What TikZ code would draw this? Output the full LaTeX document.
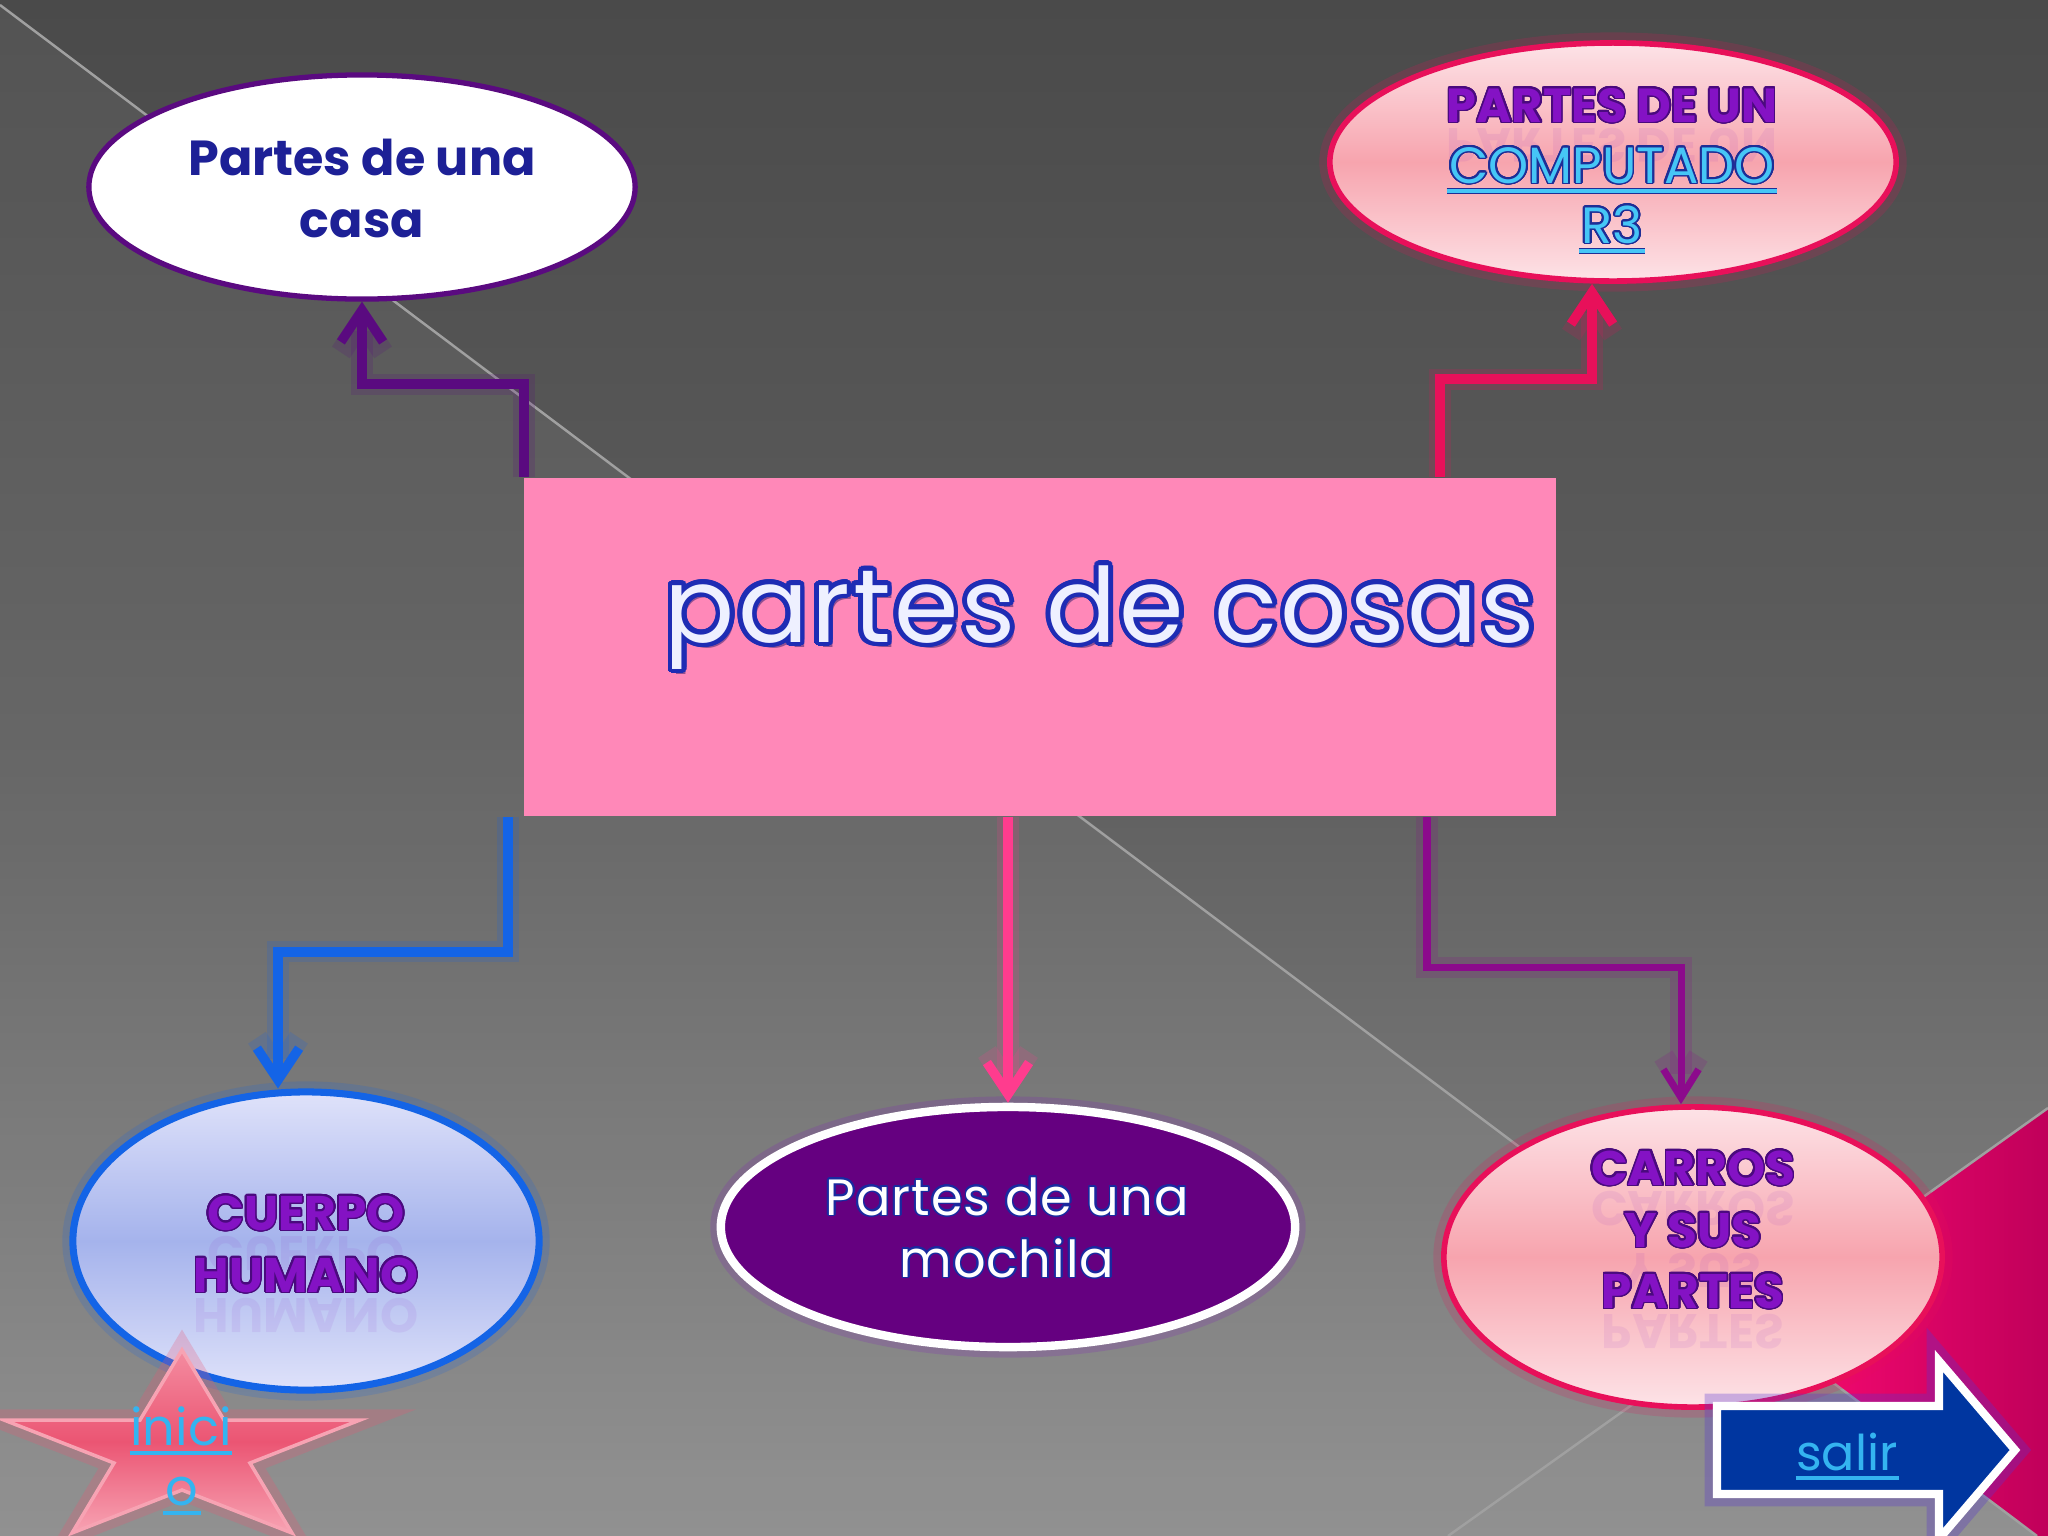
\documentclass[tikz,border=0pt]{standalone}
\usepackage{graphicx}
\usepackage{fontspec}
\setmainfont{Poppins}
\newfontfamily\popLS[LetterSpace=3]{Poppins}
\newfontfamily\popMS[LetterSpace=2]{Poppins}
\usepackage[copies]{contour}
\contournumber{24}
\usetikzlibrary{shapes.geometric,arrows.meta,calc}

\definecolor{bgtop}{HTML}{4A4A4A}
\definecolor{bgmid}{HTML}{5F5F5F}
\definecolor{bgbot}{HTML}{8C8C8C}
\definecolor{lineg}{HTML}{A0A0A0}
\definecolor{magA}{HTML}{FF0A74}
\definecolor{magB}{HTML}{C0005A}
\definecolor{boxpink}{HTML}{FF88B8}
\definecolor{casaC}{HTML}{5A0A80}
\definecolor{compC}{HTML}{E8105A}
\definecolor{cuerpoC}{HTML}{1464E6}
\definecolor{mochC}{HTML}{FF3C8E}
\definecolor{carrosC}{HTML}{8C0A8C}
\definecolor{casaText}{HTML}{1D2096}
\definecolor{purT}{HTML}{8412C4}
\definecolor{purO}{HTML}{4A0A7E}
\definecolor{cBlue}{HTML}{46C6F6}
\definecolor{cBlueO}{HTML}{1E2E96}
\definecolor{mochO}{HTML}{1A2AA0}
\definecolor{mochFill}{HTML}{650080}
\definecolor{cosasFill}{HTML}{EEF0FF}
\definecolor{cosasO}{HTML}{1E2CB4}
\definecolor{cosasS}{HTML}{0A0A60}
\definecolor{linkBlue}{HTML}{34B4F0}
\definecolor{pinkTop}{HTML}{FDE3E7}
\definecolor{pinkMid}{HTML}{F7A4AE}
\definecolor{lavTop}{HTML}{DFE2FA}
\definecolor{lavMid}{HTML}{A5B3EC}
\definecolor{starMid}{HTML}{EB5573}
\definecolor{starTop}{HTML}{F48CA0}
\definecolor{starBot}{HTML}{F7A3B3}
\definecolor{arrowBlue}{HTML}{0036A0}

\newcommand\mirrortext[1]{\scalebox{1}[-1]{#1}}

\tikzset{
  t/.style={anchor=base, inner sep=0pt},
  glow/.style={preaction={draw=#1, line width=6pt, draw opacity=0.18}},
  conn/.style={draw=#1, line width=2.7pt, glow=#1,
    -{Straight Barb[length=9pt,width=12pt]}},
  thinconn/.style={draw=#1, line width=2pt, glow=#1,
    -{Straight Barb[length=8pt,width=10pt]}},
  oval/.style={ellipse, inner sep=0pt},
  pinkoval/.style={oval, top color=pinkTop, bottom color=pinkTop, middle color=pinkMid,
    draw=compC, line width=1.6pt, glow=compC},
  bigtxt/.style={font=\fontsize{13.8}{17}\selectfont\bfseries},
  refl/.style={t, text=purT, text opacity=0.08, bigtxt},
}

\begin{document}
\begin{tikzpicture}[x=0.01cm,y=-0.01cm]
\useasboundingbox (0,0) rectangle (2048,1536);
% background
\shade[top color=bgtop, bottom color=bgbot, middle color=bgmid] (0,0) rectangle (2048,1536);
\fill[white, opacity=0.05] (0,5) -- (2037,1536) -- (0,1536) -- cycle;
\shade[left color=magA, right color=magB] (1750,1321) -- (2048,1108) -- (2048,1536) -- (2037,1536) -- cycle;
\draw[lineg, line width=0.7pt] (0,5) -- (2037,1536);
\draw[lineg, line width=0.7pt] (1448,1536) -- (2048,1108);

% central box
\node[fill=boxpink, minimum width=10.32cm, minimum height=3.38cm, inner sep=0pt] (box) at (1040,647) {};

% ellipses
\node[oval, fill=white, draw=casaC, line width=1.5pt, minimum width=5.46cm, minimum height=2.24cm] (casa) at (362,187) {};
\node[pinkoval, minimum width=5.66cm, minimum height=2.38cm] (comp) at (1613,162) {};
\node[oval, top color=lavTop, bottom color=lavTop, middle color=lavMid, draw=cuerpoC, line width=2pt, glow=cuerpoC,
      minimum width=4.66cm, minimum height=2.98cm] (cuerpo) at (306,1241) {};
\node[oval, fill=mochFill, draw=white, line width=2.4pt, glow=purT,
      minimum width=5.74cm, minimum height=2.40cm] (moch) at (1008,1227) {};
\node[pinkoval, minimum width=4.98cm, minimum height=3.00cm] (carros) at (1693,1257) {};

% connectors
\draw[conn=casaC] ($(box.north west)+(1,0)$) -- ++(0,-93) -| (casa.south);
\draw[conn=compC] ($(box.north west)+(917,0)$) -- ++(0,-98) -| ($(comp.south)+(-21,0)$);
\draw[conn=cuerpoC] ($(box.south west)+(-15,0)$) -- ++(0,135) -| ($(cuerpo.north)+(-28,0)$);
\draw[conn=mochC] (moch.north |- box.south) -- (moch.north);
\draw[thinconn=carrosC] ($(box.south west)+(904,0)$) -- ++(0,151) -| ($(carros.north)+(-12,0)$);

% central text
\node[t, text=cosasS, text opacity=0.45] (cosasShadow) at (1104,647)
  {\fontsize{29.5}{36}\selectfont\popLS partes de cosas};
\node[t] (cosas) at (1100,642)
  {\fontsize{29.5}{36}\selectfont\popLS\contourlength{1.3pt}\color{cosasFill}\contour{cosasO}{partes de cosas}};

% casa text
\node[t, text=casaText, font=\fontsize{14}{17}\selectfont\bfseries] (casa1) at (362,175) {Partes de una};
\node[t, text=casaText, font=\fontsize{14}{17}\selectfont\bfseries] (casa2) at (362,237) {casa};

% computador text
\node[refl, font=\fontsize{13.6}{17}\selectfont\bfseries] (comp1r) at (1612,128) {\mirrortext{PARTES DE UN}};
\node[t, font=\fontsize{13.6}{17}\selectfont\bfseries] (comp1) at (1612,122)
  {\contourlength{0.45pt}\color{purT}\contour{purO}{PARTES DE UN}};
\node[t, font=\fontsize{14.5}{17}\selectfont] (comp2) at (1612,183)
  {\contourlength{0.5pt}\color{cBlue}\contour{cBlueO}{COMPUTADO}};
\node[t, font=\fontsize{14.5}{17}\selectfont] (comp3) at (1612,243)
  {\contourlength{0.5pt}\color{cBlue}\contour{cBlueO}{R3}};
\draw[cBlueO, line width=1.9pt] ($(comp2.base west)+(-2,8)$) -- ($(comp2.base east)+(2,8)$);
\draw[cBlue, line width=0.9pt] ($(comp2.base west)+(-2,8)$) -- ($(comp2.base east)+(2,8)$);
\draw[cBlueO, line width=1.9pt] ($(comp3.base west)+(-2,8)$) -- ($(comp3.base east)+(2,8)$);
\draw[cBlue, line width=0.9pt] ($(comp3.base west)+(-2,8)$) -- ($(comp3.base east)+(2,8)$);

% cuerpo text
\node[refl] (cuerpo1r) at (306,1236) {\mirrortext{CUERPO}};
\node[refl] (cuerpo2r) at (306,1298) {\mirrortext{HUMANO}};
\node[t, bigtxt] (cuerpo1) at (306,1230) {\contourlength{0.45pt}\color{purT}\contour{purO}{CUERPO}};
\node[t, bigtxt] (cuerpo2) at (306,1292) {\contourlength{0.45pt}\color{purT}\contour{purO}{HUMANO}};

% mochila text
\node[t, font=\fontsize{14.5}{17}\selectfont\popMS] (moch1) at (1007,1215)
  {\contourlength{0.45pt}\color{white}\contour{mochO}{Partes de una}};
\node[t, font=\fontsize{14.5}{17}\selectfont\popMS] (moch2) at (1007,1277)
  {\contourlength{0.45pt}\color{white}\contour{mochO}{mochila}};

% carros text
\node[refl] (carros1r) at (1693,1191) {\mirrortext{CARROS}};
\node[refl] (carros2r) at (1693,1253) {\mirrortext{Y SUS}};
\node[refl] (carros3r) at (1693,1314) {\mirrortext{PARTES}};
\node[t, bigtxt] (carros1) at (1693,1185) {\contourlength{0.45pt}\color{purT}\contour{purO}{CARROS}};
\node[t, bigtxt] (carros2) at (1693,1247) {\contourlength{0.45pt}\color{purT}\contour{purO}{Y SUS}};
\node[t, bigtxt] (carros3) at (1693,1308) {\contourlength{0.45pt}\color{purT}\contour{purO}{PARTES}};

% star with "inicio"
\shade[top color=starTop, bottom color=starBot, middle color=starMid, draw=starBot, line width=1pt,
  preaction={draw=starMid, line width=6pt, draw opacity=0.25}]
  (182,1350) -- (224,1420) -- (360,1420) -- (250,1463) -- (292,1533) -- (182,1490)
  -- (72,1533) -- (114,1463) -- (4,1420) -- (140,1420) -- cycle;
\node[t, text=linkBlue, font=\fontsize{14.5}{17}\selectfont] (inici) at (181,1445) {inici};
\node[t, text=linkBlue, font=\fontsize{14.5}{17}\selectfont] (inicio) at (182,1505) {o};
\draw[linkBlue, line width=1pt] ($(inici.base west)+(0,8)$) -- ($(inici.base east)+(0,8)$);
\draw[linkBlue, line width=1pt] ($(inicio.base west)+(-2,8)$) -- ($(inicio.base east)+(2,8)$);

% salir arrow
\draw[fill=arrowBlue, draw=white, line width=2.3pt, line join=miter,
  preaction={draw=purT!60!cuerpoC, line width=7pt, draw opacity=0.3}]
  (1717,1406) -- (1939,1406) -- (1939,1361) -- (2015,1450) -- (1939,1539) -- (1939,1494) -- (1717,1494) -- cycle;
\node[t, text=linkBlue, font=\fontsize{14}{17}\selectfont] (salir) at (1847,1470) {salir};
\draw[linkBlue, line width=1pt] ($(salir.base west)+(0,8)$) -- ($(salir.base east)+(0,8)$);
\end{tikzpicture}
\end{document}
